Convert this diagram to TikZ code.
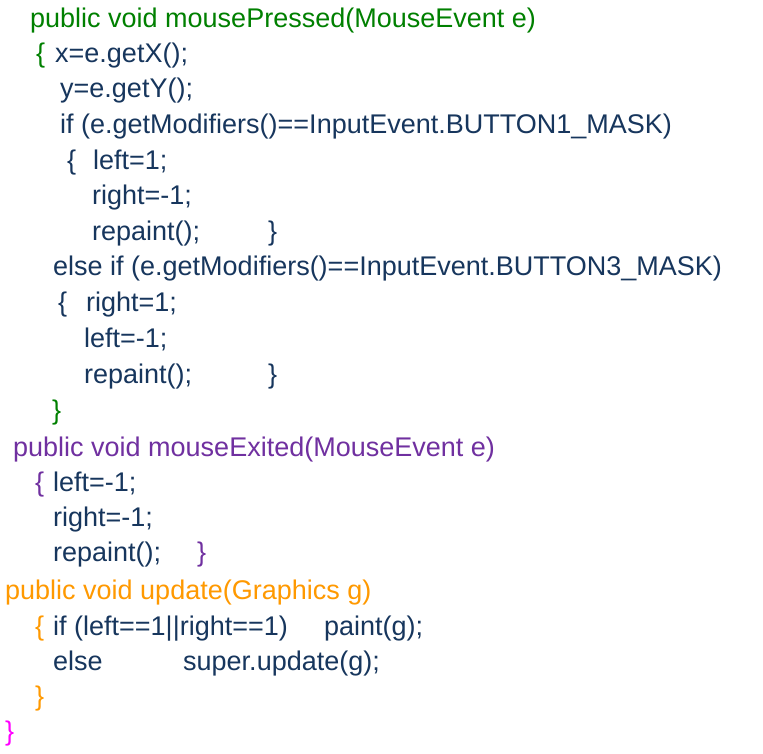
\documentclass[tikz,border=0pt]{standalone}
\usepackage{fontspec}
\setmainfont{Liberation Sans}
\definecolor{cg}{RGB}{0,128,0}
\definecolor{cd}{RGB}{23,54,93}
\definecolor{cp}{RGB}{112,48,160}
\definecolor{co}{RGB}{255,153,0}
\definecolor{cm}{RGB}{255,0,255}
\tikzset{t/.style={anchor=base west,inner sep=0pt,font=\fontsize{27}{31}\selectfont}}
\begin{document}
\begin{tikzpicture}[x=1pt,y=-1pt]
\useasboundingbox[fill=white] (0,0) rectangle (763,753);
\node[t,text=cg] (a1) at (30,27) {public void mousePressed(MouseEvent e)};
\node[t,text=cg] (a2) at (36,62) {\{};
\node[t,text=cd] (a2b) at (55,62) {x=e.getX();};
\node[t,text=cd] (a3) at (60,97) {y=e.getY();};
\node[t,text=cd] (a4) at (60,133) {if (e.getModifiers()==InputEvent.BUTTON1\_MASK)};
\node[t,text=cd] (a5) at (67,169) {\{};
\node[t,text=cd] (a5b) at (93,169) {left=1;};
\node[t,text=cd] (a6) at (92,204) {right=-1;};
\node[t,text=cd] (a7) at (92,240) {repaint();};
\node[t,text=cd] (a7b) at (268,240) {\}};
\node[t,text=cd] (a8) at (53,275) {else if (e.getModifiers()==InputEvent.BUTTON3\_MASK)};
\node[t,text=cd] (a9) at (58,311) {\{};
\node[t,text=cd] (a9b) at (86,311) {right=1;};
\node[t,text=cd] (a10) at (84,347) {left=-1;};
\node[t,text=cd] (a11) at (84,383) {repaint();};
\node[t,text=cd] (a11b) at (268,383) {\}};
\node[t,text=cg] (a12) at (52,419) {\}};
\node[t,text=cp] (a13) at (13,456) {public void mouseExited(MouseEvent e)};
\node[t,text=cp] (a14) at (35,491) {\{};
\node[t,text=cd] (a14b) at (53,491) {left=-1;};
\node[t,text=cd] (a15) at (53,526) {right=-1;};
\node[t,text=cd] (a16) at (53,561) {repaint();};
\node[t,text=cp] (a16b) at (197,561) {\}};
\node[t,text=co] (a17) at (5,599) {public void update(Graphics g)};
\node[t,text=co] (a18) at (35,635) {\{};
\node[t,text=cd] (a18b) at (53,635) {if (left==1||right==1)};
\node[t,text=cd] (a18c) at (324,635) {paint(g);};
\node[t,text=cd] (a19) at (53,670) {else};
\node[t,text=cd] (a19b) at (183,670) {super.update(g);};
\node[t,text=co] (a20) at (35,705) {\}};
\node[t,text=cm] (a21) at (5,740) {\}};
\end{tikzpicture}
\end{document}
